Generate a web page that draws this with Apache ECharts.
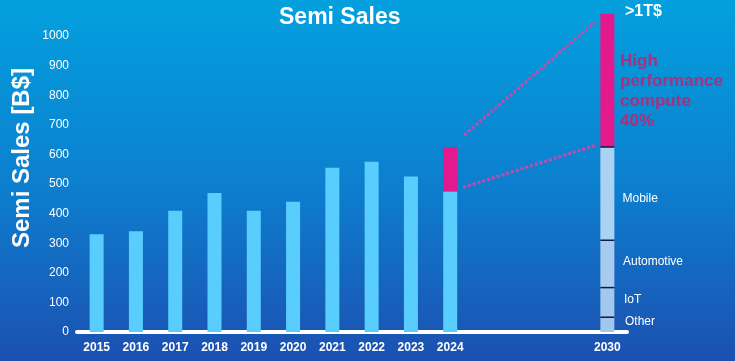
<!DOCTYPE html>
<html>
<head>
<meta charset="utf-8">
<script src="https://cdn.jsdelivr.net/npm/echarts@6/dist/echarts.min.js"></script>
<style>
html,body{margin:0;padding:0;}
#chart{width:735px;height:361px;}
</style>
</head>
<body>
<div id="chart"></div>
<script>
// ---- data ----
const categories = ['2015','2016','2017','2018','2019','2020','2021','2022','2023','2024','','','','2030'];
const salesValues = [330, 340, 410, 470, 410, 440, 555, 575, 525, 475, null, null, null, null];
const hpc2024 = 150;           // HPC extension on top of 2024 bar
const seg2030Names = ['Other', 'IoT', 'Automotive', 'Mobile', 'High performance compute'];
const seg2030Values = [50, 100, 160, 315, 450];
const yTicks = [0,100,200,300,400,500,600,700,800,900,1000];

const FONT = 'Arial, "Liberation Sans", Helvetica, sans-serif';
const CYAN = '#5acdff';
const MAGENTA = '#e21a8e';
const SEG_COLORS = ['#a2c6ec', '#a3c8ee', '#a6cbef', '#abd2f3', MAGENTA];

const chart = echarts.init(document.getElementById('chart'));

function onlyAt(idx, v) {
  return categories.map((c, i) => i === idx ? v : null);
}
const idx2024 = categories.indexOf('2024');
const idx2030 = categories.indexOf('2030');

const series = [
  {
    name: 'Semi Sales', type: 'bar', stack: 's', barWidth: 14,
    data: salesValues, itemStyle: { color: CYAN }
  },
  {
    name: 'HPC 2024', type: 'bar', stack: 's', barWidth: 14,
    data: onlyAt(idx2024, hpc2024), itemStyle: { color: MAGENTA }
  }
];
seg2030Names.forEach((n, k) => {
  series.push({
    name: n, type: 'bar', stack: 's', barWidth: 14,
    data: onlyAt(idx2030, seg2030Values[k]), itemStyle: { color: SEG_COLORS[k] }
  });
});

chart.setOption({
  animation: false,
  backgroundColor: {
    type: 'linear', x: 0, y: 0, x2: 0, y2: 1,
    colorStops: [
      { offset: 0, color: '#03a0de' },
      { offset: 0.5, color: '#0c80cf' },
      { offset: 1, color: '#1c50b1' }
    ]
  },
  textStyle: { fontFamily: FONT },
  title: {
    text: 'Semi Sales', left: 274, top: 1,
    textStyle: { color: '#fff', fontSize: 23, fontWeight: 'bold', fontFamily: FONT }
  },
  grid: { left: 77, right: 108, top: 6.4, bottom: 29, containLabel: false },
  xAxis: {
    type: 'category', data: categories,
    axisLine: { show: true, lineStyle: { color: '#ffffff', width: 4 } },
    axisTick: { show: false },
    axisLabel: { color: '#fff', fontSize: 12, fontWeight: 'bold', margin: 10, fontFamily: FONT, interval: 0 },
    splitLine: { show: false }
  },
  yAxis: {
    type: 'value', min: 0, max: 1100, interval: 100,
    axisLine: { show: false }, axisTick: { show: false }, splitLine: { show: false },
    axisLabel: {
      color: '#fff', fontSize: 12, margin: 8, fontFamily: FONT, padding: [0, 0, 7, 0],
      formatter: v => yTicks.indexOf(v) >= 0 ? String(v) : ''
    }
  },
  series: series
});

// ---- overlay annotations computed from the chart's scales ----
const px = (cat, v) => chart.convertToPixel({ xAxisIndex: 0, yAxisIndex: 0 }, [cat, v]);
const graphics = [];

// separators between 2030 segments
let cum = 0;
for (let k = 0; k < seg2030Values.length - 1; k++) {
  cum += seg2030Values[k];
  const p = px('2030', cum);
  graphics.push({
    type: 'line', z: 100,
    shape: { x1: p[0] - 7, y1: p[1], x2: p[0] + 7, y2: p[1] },
    style: { stroke: '#0d1a45', lineWidth: 1.5 }
  });
}
const top2030 = cum + seg2030Values[seg2030Values.length - 1];
const mobileTop = cum;
const top2024 = salesValues[idx2024] + hpc2024;
const base2024 = salesValues[idx2024];

// dotted connector lines
const a1 = px('2024', top2024), b1 = px('2030', top2030);
const a2 = px('2024', base2024), b2 = px('2030', mobileTop);
const dotted = { stroke: '#c64aae', lineWidth: 3, lineDash: [3, 2] };
graphics.push({ type: 'line', z: 90, shape: { x1: a1[0] + 14, y1: a1[1] - 12, x2: b1[0] - 12, y2: b1[1] + 8 }, style: dotted });
graphics.push({ type: 'line', z: 90, shape: { x1: a2[0] + 13, y1: a2[1] - 4, x2: b2[0] - 11, y2: b2[1] - 2 }, style: dotted });

// y axis name
graphics.push({
  type: 'text', x: 22, y: 158, rotation: Math.PI / 2, z: 100,
  style: { text: 'Semi Sales [B$]', fill: '#fff', font: 'bold 24px ' + FONT, align: 'center', verticalAlign: 'middle' }
});
// >1T$
graphics.push({
  type: 'text', x: 625, y: 12, z: 100,
  style: { text: '>1T$', fill: '#fff', font: 'bold 16px ' + FONT, align: 'left', verticalAlign: 'middle' }
});
// HPC text
['High', 'performance', 'compute', '40%'].forEach((t, i) => {
  graphics.push({
    type: 'text', x: 620, y: 61.5 + i * 20, z: 100,
    style: { text: t, fill: '#a8307f', font: 'bold 17px ' + FONT, align: 'left', verticalAlign: 'middle' }
  });
});
// segment names
const segLabels = [['Mobile', 622.5, 199], ['Automotive', 623, 262], ['IoT', 624, 300], ['Other', 625, 321.5]];
segLabels.forEach(s => {
  graphics.push({
    type: 'text', x: s[1], y: s[2], z: 100,
    style: { text: s[0], fill: '#fff', font: '12px ' + FONT, align: 'left', verticalAlign: 'middle' }
  });
});

chart.setOption({ graphic: graphics });
</script>
</body>
</html>
